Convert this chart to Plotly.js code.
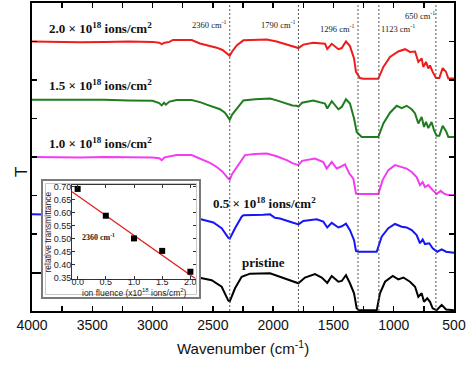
<!DOCTYPE html>
<html><head><meta charset="utf-8">
<script src="https://cdn.plot.ly/plotly-3.0.1.min.js"></script>
<style>html,body{margin:0;padding:0;background:#fff}#chart{width:474px;height:365px}</style>
</head><body><div id="chart"></div>
<script>
// ---- main spectra (wavenumber, offset transmittance) ----
const redWn = [4000,3800,3600,3400,3200,3000,2945,2924,2900,2860,2831,2750,2676,2607,2530,2468,2420,2372,2360,2340,2302,2247,2150,2053,1971,1888,1840,1805,1790,1750,1667,1570,1551,1514,1459,1431,1396,1363,1329,1313,1280,1252,1200,1128,1086,1031,962,906,865,823,796,768,755,732,713,699,677,649,622,594,566,547,500];
const redT  = [7.00,6.99,6.98,6.99,7.00,6.99,6.97,6.93,6.97,6.99,7.04,7.04,7.04,6.95,6.90,6.84,6.78,6.66,6.63,6.74,6.90,7.03,7.04,7.05,7.00,6.92,6.87,6.85,6.83,6.92,6.97,6.94,6.81,6.94,6.80,6.83,7.00,6.88,6.56,6.21,6.05,6.03,6.03,6.03,6.34,6.60,6.74,6.80,6.73,6.74,6.47,6.56,6.34,6.47,6.30,6.38,6.21,6.05,6.05,6.31,6.21,6.04,6.04];

const greenWn = [4000,3800,3600,3400,3200,3000,2945,2924,2905,2890,2860,2800,2676,2600,2551,2441,2400,2372,2360,2340,2302,2247,2150,2026,1971,1888,1840,1805,1790,1760,1667,1570,1551,1514,1459,1431,1396,1363,1329,1307,1266,1200,1128,1086,1031,975,934,893,851,823,796,768,749,732,713,686,666,644,622,594,566,547,500];
const greenT  = [5.49,5.49,5.48,5.49,5.47,5.46,5.40,5.34,5.41,5.36,5.44,5.48,5.48,5.42,5.36,5.24,5.15,5.00,4.97,5.10,5.24,5.47,5.50,5.52,5.47,5.39,5.34,5.33,5.31,5.41,5.47,5.39,5.26,5.45,5.24,5.30,5.50,5.39,5.00,4.65,4.52,4.52,4.52,4.87,5.15,5.33,5.27,5.33,5.24,5.13,4.87,5.04,4.78,4.91,4.75,4.91,4.70,4.55,4.55,4.81,4.67,4.52,4.52];

const magWn = [4000,3800,3600,3400,3200,3000,2945,2924,2900,2860,2800,2676,2580,2520,2468,2420,2372,2360,2340,2302,2233,2150,2053,1971,1888,1840,1805,1790,1760,1653,1584,1556,1514,1473,1445,1404,1368,1335,1313,1290,1200,1128,1092,1045,989,934,893,851,810,782,760,741,713,677,644,611,583,547,500];
const magT  = [4.00,3.99,3.99,4.00,4.00,3.99,3.97,3.92,3.99,4.02,4.05,4.05,3.92,3.84,3.74,3.62,3.44,3.41,3.56,3.74,4.05,4.08,4.09,4.02,3.92,3.84,3.81,3.79,3.90,3.96,3.87,3.70,3.87,3.70,3.74,3.81,3.57,3.44,3.05,3.04,3.04,3.04,3.40,3.66,3.79,3.73,3.70,3.61,3.48,3.27,3.35,3.22,3.27,3.14,3.04,3.12,3.05,3.01,3.01];

const blueWn = [4000,3900,3800,3600,3400,3200,3000,2945,2924,2900,2800,2700,2607,2496,2427,2372,2360,2340,2316,2261,2247,2082,2026,1985,1943,1860,1800,1790,1750,1639,1584,1551,1514,1459,1431,1396,1363,1329,1313,1290,1200,1141,1100,1045,989,934,893,851,810,782,760,741,705,677,639,602,566,511,500];
const blueT  = [2.51,2.50,2.50,2.49,2.50,2.49,2.48,2.45,2.41,2.46,2.47,2.44,2.39,2.30,2.15,1.90,1.88,2.00,2.15,2.45,2.49,2.50,2.51,2.42,2.40,2.32,2.26,2.25,2.34,2.38,2.32,2.17,2.29,2.17,2.20,2.27,2.10,1.84,1.56,1.54,1.54,1.54,1.93,2.15,2.26,2.19,2.17,2.10,1.97,1.76,1.86,1.74,1.76,1.63,1.54,1.60,1.54,1.51,1.51];

const blackWn = [4000,3900,3800,3600,3400,3200,3000,2930,2900,2800,2700,2607,2510,2427,2372,2360,2340,2316,2261,2192,2026,1943,1860,1791,1736,1653,1597,1551,1514,1459,1431,1396,1363,1329,1307,1290,1200,1141,1114,1072,1008,962,920,865,823,796,768,749,722,699,677,644,602,566,500];
const blackT  = [0.99,0.99,0.98,0.98,0.99,0.98,0.97,0.92,0.96,0.97,0.92,0.86,0.80,0.63,0.27,0.25,0.40,0.59,0.89,0.97,0.98,0.89,0.80,0.72,0.87,0.96,0.87,0.73,0.91,0.76,0.78,0.93,0.72,0.46,0.07,0.02,0.02,0.02,0.46,0.76,0.91,0.82,0.87,0.76,0.63,0.37,0.46,0.24,0.33,0.24,0.07,0.02,0.16,0.04,0.02];

// marked band positions and labels
const bandWn = [2360,1790,1296,1123,650];
const bandLabels = ["2360 cm<sup>-1</sup>","1790 cm<sup>-1</sup>","1296 cm<sup>-1</sup>","1123 cm<sup>-1</sup>","650 cm<sup>-1</sup>"];
const seriesLabels = ["2.0 × 10<sup>18</sup> ions/cm<sup>2</sup>","1.5 × 10<sup>18</sup> ions/cm<sup>2</sup>","1.0 × 10<sup>18</sup> ions/cm<sup>2</sup>","0.5 × 10<sup>18</sup> ions/cm<sup>2</sup>","pristine"];
const xTicks = [4000,3500,3000,2500,2000,1500,1000,500];

// ---- inset ----
const fluence = [0.0,0.5,1.0,1.5,2.0];
const relT = [0.691,0.588,0.501,0.453,0.373];
const fitX = [-0.1,2.1];
const fitY = [0.680,0.345];

// ---- geometry helpers (pixel -> paper) ----
const L=32,R=454,T=3,B=311;
const px=(x)=>(x-L)/(R-L), py=(y)=>(B-y)/(B-T);

const sans='"Liberation Sans", Arial, sans-serif';
const serif='"Liberation Serif", "Times New Roman", serif';

const line=(x,y,c)=>({x:x,y:y,type:'scatter',mode:'lines',line:{color:c,width:2},xaxis:'x',yaxis:'y',hoverinfo:'skip',showlegend:false});
const data=[
  line(redWn,redT,'#ee1c1c'),
  line(greenWn,greenT,'#1e7d1e'),
  line(magWn,magT,'#f23cf2'),
  line(blueWn,blueT,'#1515f5'),
  line(blackWn,blackT,'#000000'),
  {x:[],y:[],type:'scatter',mode:'lines',xaxis:'x2',yaxis:'y2',showlegend:false,hoverinfo:'skip'},
  {x:fitX,y:fitY,type:'scatter',mode:'lines',line:{color:'#e02020',width:1.3},xaxis:'x3',yaxis:'y3',showlegend:false,hoverinfo:'skip'},
  {x:fluence,y:relT,type:'scatter',mode:'markers',marker:{symbol:'square',size:6,color:'#000'},xaxis:'x3',yaxis:'y3',showlegend:false,hoverinfo:'skip',cliponaxis:false}
];

const shapes = bandWn.map(w=>({type:'line',xref:'x',yref:'paper',x0:w,x1:w,y0:0,y1:1,line:{color:'#555',width:1,dash:'2px,2px'},layer:'above'}));
// light inner line of the inset frame
shapes.push({type:'rect',xref:'paper',yref:'paper',x0:px(45.5),x1:px(196.5),y0:py(294.5),y1:py(183.5),line:{color:'#c8c8c8',width:1},layer:'above'});

const ann=[];
const sPos=[[47,28],[47,85],[47,143],[211,203],[240,262]];
seriesLabels.forEach((t,i)=>ann.push({xref:'paper',yref:'paper',x:px(sPos[i][0]),y:py(sPos[i][1]),xanchor:'left',yanchor:'middle',showarrow:false,text:'<b>'+t+'</b>',font:{family:serif,size:13,color:'#111'}}));
const bPos=[[228,25,'right'],[297,25,'right'],[356,29,'right'],[379,29,'left'],[437,15,'right']];
bandLabels.forEach((t,i)=>ann.push({xref:'paper',yref:'paper',x:px(bPos[i][0]),y:py(bPos[i][1]),xanchor:bPos[i][2],yanchor:'middle',showarrow:false,text:t,font:{family:serif,size:8.5,color:'#222'}}));
ann.push({xref:'paper',yref:'paper',x:0.5,y:py(347),xanchor:'center',yanchor:'middle',showarrow:false,text:'Wavenumber (cm<sup>-1</sup>)',font:{family:sans,size:15,color:'#111'}});
ann.push({xref:'paper',yref:'paper',x:px(21),y:py(172),xanchor:'center',yanchor:'middle',textangle:-90,showarrow:false,text:'T',font:{family:sans,size:17,color:'#111'}});
// inset texts
ann.push({xref:'paper',yref:'paper',x:px(134),y:py(292.5),xanchor:'center',yanchor:'middle',showarrow:false,text:'ion fluence (x10<sup>18</sup> ions/cm<sup>2</sup>)',font:{family:sans,size:8.5,color:'#222'}});
ann.push({xref:'paper',yref:'paper',x:px(47.5),y:py(232),xanchor:'center',yanchor:'middle',textangle:-90,showarrow:false,text:'relative transmittance',font:{family:sans,size:8.5,color:'#222'}});
ann.push({xref:'x3',yref:'y3',x:0.37,y:0.508,xanchor:'center',yanchor:'middle',showarrow:false,text:'<b>2360 cm<sup>-1</sup></b>',font:{family:serif,size:8,color:'#222'}});

const layout={
  width:474,height:365,margin:{l:L,r:474-R,t:T,b:365-B},
  paper_bgcolor:'#fff',plot_bgcolor:'#fff',showlegend:false,
  xaxis:{domain:[0,1],range:[4000,500],tickmode:'array',tickvals:xTicks,ticks:'inside',ticklen:5,tickwidth:1.5,tickcolor:'#000',
    minor:{tickmode:'linear',tick0:500,dtick:250,ticks:'inside',ticklen:5,tickwidth:1.5,tickcolor:'#000'},
    showline:true,linewidth:2,linecolor:'#000',mirror:'ticks',showgrid:false,zeroline:false,
    tickfont:{family:sans,size:14,color:'#111'},anchor:'y'},
  yaxis:{domain:[0,1],range:[0,8],tickmode:'linear',tick0:0,dtick:1,ticks:'inside',ticklen:5,tickwidth:1.5,tickcolor:'#000',
    showticklabels:false,showline:true,linewidth:2,linecolor:'#000',mirror:'ticks',showgrid:false,zeroline:false,anchor:'x'},
  xaxis2:{domain:[px(43),px(199)],range:[0,1],showticklabels:false,ticks:'',showgrid:false,zeroline:false,showline:true,mirror:true,linecolor:'#7a7a7a',linewidth:2,anchor:'y2',fixedrange:true},
  yaxis2:{domain:[py(297),py(181)],range:[0,1],showticklabels:false,ticks:'',showgrid:false,zeroline:false,showline:true,mirror:true,linecolor:'#7a7a7a',linewidth:2,anchor:'x2',fixedrange:true},
  xaxis3:{domain:[px(72),px(196)],range:[-0.1,2.1],tickmode:'linear',tick0:0,dtick:0.5,tickformat:'.1f',ticks:'inside',ticklen:3,tickcolor:'#333',ticklabelstandoff:-5,
    showline:true,linewidth:1,linecolor:'#333',mirror:'ticks',showgrid:false,zeroline:false,tickfont:{family:sans,size:9,color:'#222'},anchor:'y3'},
  yaxis3:{domain:[py(278.5),py(185)],range:[0.347,0.706],tickmode:'linear',tick0:0.35,dtick:0.05,tickformat:'.2f',ticks:'inside',ticklen:3,tickcolor:'#333',ticklabelstandoff:-2,
    showline:true,linewidth:1,linecolor:'#333',mirror:'ticks',showgrid:false,zeroline:false,tickfont:{family:sans,size:9,color:'#222'},anchor:'x3'},
  shapes:shapes,annotations:ann
};
Plotly.newPlot('chart',data,layout,{staticPlot:true,displayModeBar:false});
</script></body></html>
